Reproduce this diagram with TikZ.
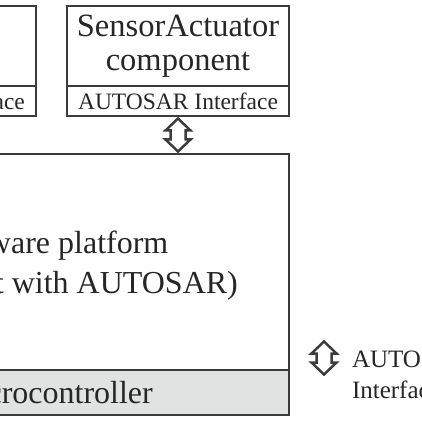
\documentclass[tikz,border=0pt]{standalone}
\usepackage{fontspec}
\setmainfont{Liberation Serif}
\usetikzlibrary{positioning, calc}
\definecolor{linegray}{HTML}{3C3C3C}
\definecolor{mcugray}{HTML}{DFE3E2}
\definecolor{textgray}{HTML}{262626}

\begin{document}
\begin{tikzpicture}[
    x=1pt, y=1pt,
    node distance=0pt,
    every node/.style={outer sep=0pt, inner sep=0pt, text=textgray},
    comp/.style={draw=linegray, line width=2.5pt, minimum width=222pt, minimum height=80pt, align=center, font=\fontsize{32.5}{34}\selectfont},
    iface/.style={draw=linegray, line width=2.5pt, minimum width=222pt, minimum height=30pt, font=\fontsize{23.5}{26}\selectfont},
    platform/.style={draw=linegray, line width=2.5pt, minimum width=475pt, minimum height=216pt, align=center, text depth=0pt, font=\fontsize{32}{40}\selectfont},
    mcu/.style={draw=linegray, line width=2.5pt, fill=mcugray, minimum width=475pt, minimum height=45pt, font=\fontsize{32}{34}\selectfont},
    linkarrow/.pic={\draw[linegray, line width=2.5pt, fill=white, line join=miter]
        (0,16.5) -- (12.5,4.5) -- (7.5,4.5) -- (7.5,-4.5) -- (12.5,-4.5) -- (0,-16.5)
        -- (-12.5,-4.5) -- (-7.5,-4.5) -- (-7.5,4.5) -- (-12.5,4.5) -- cycle;},
    legend/.style={align=left, font=\fontsize{25}{32}\selectfont}
]
\useasboundingbox (0,-422) rectangle (422,0);
\clip (0,-422) rectangle (422,0);

% Components
\node (sensor) [comp] at (178,-46) {SensorActuator\\component};
\node (sensorif) [iface, below=of sensor] {AUTOSAR Interface};
\node (appl) [comp, left=31pt of sensor] {};
\node (applif) [iface, below=of appl] {AUTOSAR Interface};

% Platform
\node (platform) [platform, below=38pt of sensorif.south east, anchor=north east] {Software platform\\(compliant with AUTOSAR)};
\node (mcu) [mcu, below=of platform] {Microcontroller};

% Interface arrow
\coordinate (link) at ($(sensorif.south)!0.5!(sensorif.south |- platform.north)$);
\pic at (link) {linkarrow};

% Legend
\coordinate (legarrow) at ([xshift=35pt, yshift=12pt]platform.south east);
\pic at (legarrow) {linkarrow};
\node (legtext) [legend, anchor=base west] at ([xshift=28pt, yshift=-40pt]legarrow) {AUTOSAR\\[-1pt]Interface};

\end{tikzpicture}
\end{document}
